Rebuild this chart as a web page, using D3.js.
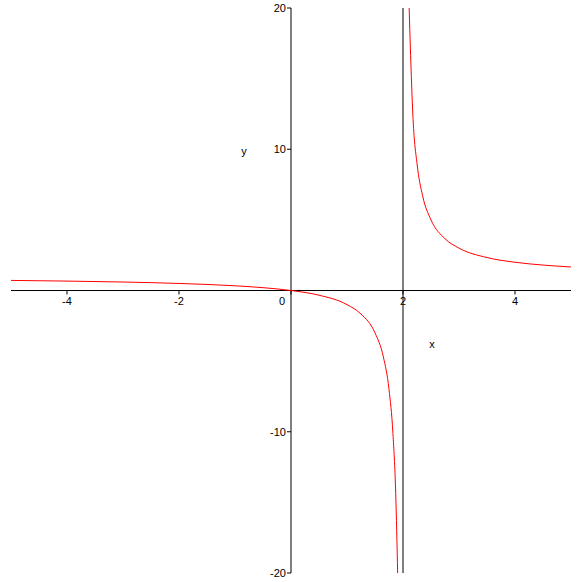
<!DOCTYPE html>
<html><head><meta charset="utf-8">
<script src="https://cdn.jsdelivr.net/npm/d3@7"></script>
<style>body{margin:0;background:#fff}text{font-family:"Liberation Sans",Arial,sans-serif;font-size:11px;fill:#000}</style>
</head><body><svg id="c" width="582" height="582"></svg>
<script>
  // values, left and right branch
  var leftX  = [-5,-4,-3,-2,-1,-0.5,0,0.5,1,1.25,1.5,1.65,1.75,1.82,1.87,1.905];
  var leftY  = [0.714,0.667,0.6,0.5,0.333,0.2,0,-0.333,-1,-1.667,-3,-4.714,-7,-10.11,-14.38,-20.05];
  var rightX = [2.095,2.13,2.18,2.25,2.35,2.5,2.75,3,3.5,4,4.5,5];
  var rightY = [22.05,17.38,12.11,9,6.71,5,3.667,3,2.333,2,1.8,1.667];
  var xTicks = [-4,-2,0,2,4];
  var yTicks = [-20,-10,10,20];
  var asymptote = 2;

  var svg = d3.select("#c");
  var x = d3.scaleLinear().domain([-5,5]).range([11,571]);
  var y = d3.scaleLinear().domain([-20,20]).range([573,8]);

  svg.append("clipPath").attr("id","clip").append("rect")
    .attr("x",x(-5)).attr("y",y(20)).attr("width",x(5)-x(-5)).attr("height",y(-20)-y(20));

  // axes
  svg.append("line").attr("x1",x(-5)).attr("x2",x(5)).attr("y1",y(0)).attr("y2",y(0)).attr("stroke","#000");
  svg.append("line").attr("x1",x(0)).attr("x2",x(0)).attr("y1",y(20)).attr("y2",y(-20)).attr("stroke","#000");
  svg.append("line").attr("x1",x(asymptote)).attr("x2",x(asymptote)).attr("y1",y(20)).attr("y2",y(-20)).attr("stroke","#000");

  xTicks.forEach(function(t){
    svg.append("line").attr("x1",x(t)).attr("x2",x(t)).attr("y1",y(0)).attr("y2",y(0)+4).attr("stroke","#000");
    svg.append("text").attr("x",x(t)-(t===0?9:0)).attr("y",y(0)+14).attr("text-anchor","middle").text(t);
  });
  yTicks.forEach(function(t){
    svg.append("line").attr("x1",x(0)-4).attr("x2",x(0)).attr("y1",y(t)).attr("y2",y(t)).attr("stroke","#000");
    svg.append("text").attr("x",x(0)-5).attr("y",y(t)+4).attr("text-anchor","end").text(t);
  });
  svg.append("text").attr("x",244).attr("y",155).attr("text-anchor","middle").text("y");
  svg.append("text").attr("x",432).attr("y",348).attr("text-anchor","middle").text("x");

  var line = d3.line().x(function(d){return x(d[0]);}).y(function(d){return y(d[1]);}).curve(d3.curveMonotoneX);
  [[leftX,leftY],[rightX,rightY]].forEach(function(b){
    svg.append("path").attr("d",line(d3.zip(b[0],b[1])))
      .attr("fill","none").attr("stroke","#f00").attr("stroke-width",1).attr("clip-path","url(#clip)");
  });
</script></body></html>
